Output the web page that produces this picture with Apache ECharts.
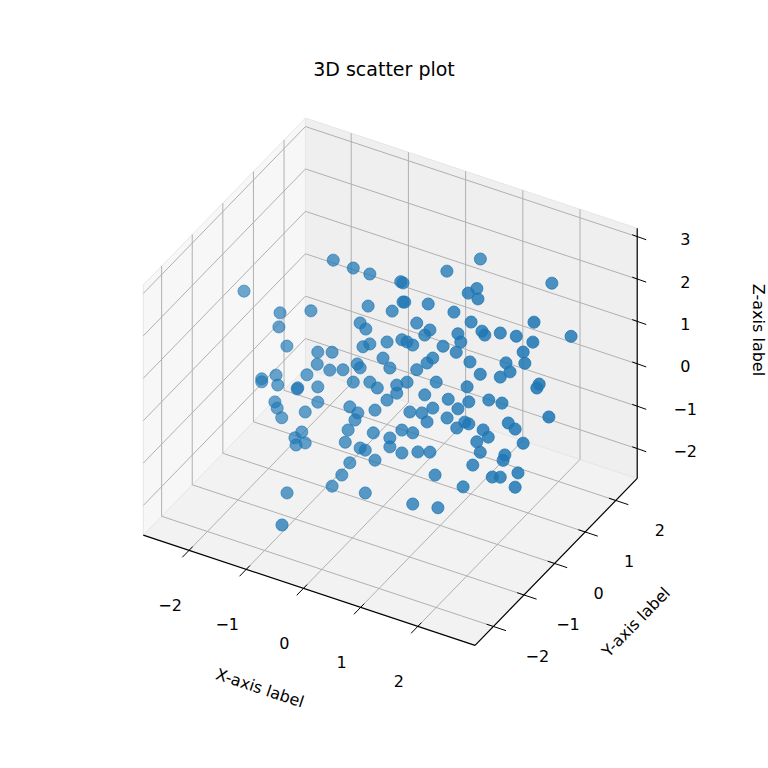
<!DOCTYPE html>
<html><head><meta charset="utf-8">
<script src="https://cdn.jsdelivr.net/npm/echarts@6/dist/echarts.min.js"></script>
<style>html,body{margin:0;padding:0;background:#fff}#c{width:768px;height:768px}</style>
</head><body><div id="c"></div>
<script>
// ---- data (x, y, z) ----
const xs = [-0.87,-0.52,-0.23,0.31,-2.43,-0.26,0.16,0.35,-1.80,-1.26,-1.82,-0.40,-0.30,-1.68,-0.35,-0.23,0.07,0.33,-1.14,-0.89,-1.15,-0.45,-0.93,-0.70,-0.40,-2.12,-1.33,-1.49,-1.14,-0.52,-0.10,-0.23,0.24,0.12,0.00,
1.06,0.85,2.31,0.35,1.49,1.48,1.66,0.79,0.38,1.24,2.64,2.86,1.54,1.73,1.78,2.05,2.33,2.62,2.45,2.48,1.31,1.36,1.28,1.05,0.59,0.82,0.73,0.42,0.52,0.87,0.77,1.52,1.70,2.15,2.22,2.05,2.73,2.69,0.93,1.47,0.59,0.42,
-2.12,-1.89,-1.85,-1.77,-1.36,-1.14,-1.50,-1.42,-1.54,-1.36,-1.52,-0.58,-0.44,-0.49,-0.14,-0.61,-0.66,-0.17,0.12,0.33,0.52,-0.31,-0.40,-0.14,0.12,0.33,0.61,-0.58,-0.72,-0.89,-1.41,-0.31,0.52,-1.07,0.24,0.47,0.68,0.07,
1.50,1.85,2.08,0.73,1.14,0.87,1.31,1.12,1.43,1.50,1.29,0.77,2.90,2.19,2.31,1.75,1.84,1.64,1.70,2.45,2.13,2.10,1.57,0.82,1.91,2.05,2.36,2.31,0.91,1.40,0.96,-1.87,-1.84];
const ys = [0,0,0,0,0,0,0,0,0,0,0,0,0,0,0,0,0,0,0,0,0,0,0,0,0,0,0,0,0,0,0,0,0,0,0,
1.2,0.5,1.2,0,0,0.3,0,0,0,0,0,0.8,0,0,0,0,0,0,0,0,0,0,0,0,0,0,0,0,0,0,0,0,0,0,0,0,0,0,0,0,0,0,
0,0,0,0,0,0,0,0,0,0,0,0,0,0,0,0,0,0,0,0,0,0,0,0,0,0,0,0,0,0,-0.5,0,0,-1.3,0,0,0,0,
0,0,0,0,0,0,0,0,0,0,0,0,0,0,0,0,0,0,0,0,0,0,0,0,0,0,0,0,0,0,0,0,0];
const zs = [2.72,2.69,2.68,2.74,1.29,1.91,1.98,2.28,1.06,1.35,0.72,1.45,1.35,0.33,0.91,1.03,1.21,1.38,0.43,0.54,0.14,0.46,0.10,0.21,0.39,-0.64,-0.19,-0.57,-0.39,0.00,0.05,0.13,0.27,0.62,0.80,
2.72,2.86,2.71,2.73,3.00,2.88,2.94,2.43,2.29,2.44,2.83,2.00,2.34,2.21,2.14,2.31,2.36,2.35,2.04,1.79,1.96,1.79,1.51,1.55,1.89,1.83,1.67,1.37,1.34,1.19,1.03,1.39,1.18,1.65,1.47,1.27,1.41,1.30,0.65,0.78,0.79,0.42,
-0.71,-1.08,-1.21,-1.40,-1.08,-0.75,-0.60,-1.58,-1.77,-1.81,-1.93,-0.61,-0.69,-0.88,-0.49,-1.17,-1.48,-1.04,-1.03,-0.75,-0.73,-1.51,-1.50,-1.67,-1.24,-1.29,-1.14,-1.93,-2.28,-2.62,-2.64,-2.52,-2.41,-2.65,0.08,-0.26,-0.19,-0.16,
0.44,0.64,0.67,0.26,0.34,0.01,0.19,-0.11,-0.07,-0.08,-0.27,-0.36,0.71,0.25,0.16,-0.11,-0.24,-0.44,-0.66,-0.11,-0.53,-0.67,-1.02,-1.05,-1.15,-1.09,-0.85,-1.21,-1.55,-1.61,-2.30,-0.44,-0.66];
const xTicks = [-2,-1,0,1,2];
const yTicks = [-2,-1,0,1,2];
const zTicks = [-2,-1,0,1,2,3];
const xRange = [-2.8,3.0], yRange = [-2.6,2.7], zRange = [-2.7,3.2];

// ---- projection (view elev 30, azim -60, fitted) ----
const O=[383,392], EX=[57.2,19.0], EY=[30.6,-31.5], EZ=[0,-42.4];
function P(x,y,z){return [O[0]+x*EX[0]+y*EY[0]+z*EZ[0], O[1]+x*EX[1]+y*EY[1]+z*EZ[1]];}
const fmt=v=>v<0?'\u2212'+(-v):String(v);

let pts = xs.map((x,i)=>({x,y:ys[i],z:zs[i]}));
pts.sort((a,b)=>(a.x-a.y)-(b.x-b.y));
const scatterData = pts.map(p=>{const q=P(p.x,p.y,p.z);
  const d=(p.x-p.y-(xRange[0]-yRange[1]))/((xRange[1]-yRange[0])-(xRange[0]-yRange[1]));
  return {value:q, itemStyle:{opacity:0.5+0.5*d}};});

const [x0,x1]=xRange,[y0,y1]=yRange,[z0,z1]=zRange;
function renderBox(params, api){
  const C=(p)=>api.coord(p);
  const ch=[];
  const poly=(arr,fill)=>ch.push({type:'polygon',shape:{points:arr.map(a=>C(P(...a)))},style:{fill:fill,stroke:'#e6e6e6',lineWidth:1},silent:true});
  const line=(a,b,col,w)=>{const p=C(P(...a)),q=C(P(...b));ch.push({type:'line',shape:{x1:p[0],y1:p[1],x2:q[0],y2:q[1]},style:{stroke:col,lineWidth:w},silent:true});};
  const text=(pos,str,opt)=>ch.push(Object.assign({type:'text',x:pos[0],y:pos[1],style:Object.assign({text:str,fill:'#000',fontSize:16,fontFamily:'DejaVu Sans',align:'center',verticalAlign:'middle'},opt.style||{})},opt.el||{}));
  poly([[x0,y0,z0],[x1,y0,z0],[x1,y1,z0],[x0,y1,z0]],'#f2f2f2');
  poly([[x0,y0,z0],[x0,y1,z0],[x0,y1,z1],[x0,y0,z1]],'#f7f7f7');
  poly([[x0,y1,z0],[x1,y1,z0],[x1,y1,z1],[x0,y1,z1]],'#efefef');
  const g='#b0b0b0';
  xTicks.forEach(t=>{line([t,y0,z0],[t,y1,z0],g,1);line([t,y1,z0],[t,y1,z1],g,1);});
  yTicks.forEach(t=>{line([x0,t,z0],[x1,t,z0],g,1);line([x0,t,z0],[x0,t,z1],g,1);});
  zTicks.forEach(t=>{line([x0,y0,t],[x0,y1,t],g,1);line([x0,y1,t],[x1,y1,t],g,1);});
  line([x0,y0,z0],[x1,y0,z0],'#000',1.2);
  line([x1,y0,z0],[x1,y1,z0],'#000',1.2);
  line([x1,y1,z0],[x1,y1,z1],'#000',1.2);
  xTicks.forEach(t=>{line([t,y0+0.12,z0],[t,y0-0.22,z0],'#000',1);
    const p=C(P(t,y0,z0));text([p[0]-19,p[1]+55],fmt(t),{});});
  yTicks.forEach(t=>{line([x1-0.12,t,z0],[x1+0.22,t,z0],'#000',1);
    const p=C(P(x1,t,z0));text([p[0]+44,p[1]+30],fmt(t),{});});
  zTicks.forEach(t=>{const p=C(P(x1,y1,t));
    ch.push({type:'line',shape:{x1:p[0]-5,y1:p[1]-2,x2:p[0]+9,y2:p[1]+3},style:{stroke:'#000',lineWidth:1},silent:true});
    text([p[0]+48,p[1]+3],fmt(t),{});});
  text([260,688],'X-axis label',{el:{rotation:-0.32}});
  text([636,622],'Y-axis label',{el:{rotation:0.8}});
  text([758,330],'Z-axis label',{el:{rotation:-Math.PI/2}});
  return {type:'group',children:ch};
}

const chart = echarts.init(document.getElementById('c'),null,{renderer:'svg'});
chart.setOption({
  animation:false,
  title:{text:'3D scatter plot',left:'center',top:54,textStyle:{fontFamily:'DejaVu Sans',fontSize:19,fontWeight:'normal',color:'#000'}},
  grid:{left:0,right:0,top:0,bottom:0},
  xAxis:{type:'value',min:0,max:768,show:false},
  yAxis:{type:'value',min:0,max:768,inverse:true,show:false},
  series:[
    {type:'custom',data:[0],renderItem:renderBox,silent:true,z:1},
    {type:'scatter',data:scatterData,symbolSize:12,z:2,
     itemStyle:{color:'#1f77b4',borderColor:'#1f77b4',borderWidth:1}}
  ]
});
</script></body></html>
